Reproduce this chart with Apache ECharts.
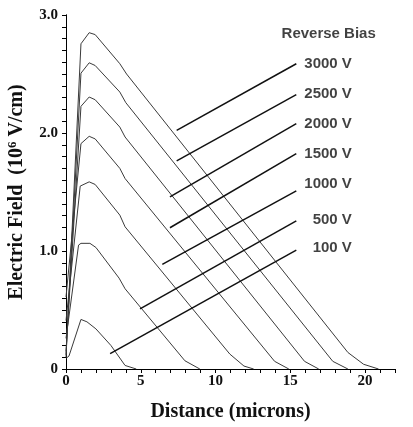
<!DOCTYPE html>
<html>
<head>
<meta charset="utf-8">
<script src="https://cdn.jsdelivr.net/npm/echarts@6/dist/echarts.min.js"></script>
<style>html,body{margin:0;padding:0;background:#fff}#c{width:413px;height:427px}</style>
</head>
<body>
<div id="c"></div>
<script>
// Electric field profiles (distance in microns, field in 10^6 V/cm)
const curve100  = [[0,0.09],[0.2,0.11],[1.0,0.42],[1.4,0.40],[2.0,0.34],[3.0,0.20],[3.95,0.03],[4.7,0]];
const curve500  = [[0,0.26],[0.84,1.05],[1.0,1.065],[1.6,1.065],[2.0,1.03],[3.55,0.77],[3.95,0.68],[7.95,0.07],[8.95,0]];
const curve1000 = [[0,0.41],[0.95,1.55],[1.55,1.586],[1.95,1.564],[3.6,1.304],[3.95,1.205],[10.95,0.127],[11.9,0.025],[12.55,0]];
const curve1500 = [[0,0.61],[1.0,1.91],[1.55,1.972],[1.95,1.95],[3.6,1.70],[3.95,1.614],[13.95,0.065],[14.9,0]];
const curve2000 = [[0,0.15],[1.0,2.226],[1.55,2.305],[1.95,2.282],[3.6,2.05],[3.95,1.966],[15.95,0.065],[16.9,0]];
const curve2500 = [[0,0.12],[1.0,2.507],[1.55,2.595],[1.95,2.572],[3.6,2.347],[4.0,2.257],[17.84,0.065],[18.85,0]];
const curve3000 = [[0,0.10],[1.0,2.756],[1.55,2.85],[1.95,2.834],[3.6,2.587],[4.05,2.50],[18.85,0.14],[19.9,0.04],[20.9,0]];

// Reverse-bias leader lines: start points and end points
const biasNames   = ['100 V','500 V','1000 V','1500 V','2000 V','2500 V','3000 V'];
const leaderStart = [[2.95,0.13],[4.95,0.51],[6.44,0.887],[6.95,1.197],[6.95,1.459],[7.4,1.763],[7.4,2.023]];
const leaderEnd   = [[15.4,1.008],[15.4,1.256],[15.4,1.51],[15.4,1.826],[15.4,2.079],[15.4,2.325],[15.4,2.587]];
const labelPos    = [[19.15,1.023],[19.15,1.262],[19.15,1.572],[19.15,1.826],[19.15,2.08],[19.15,2.333],[19.15,2.59]];
const titlePos    = [[20.75,2.84]];

const xTickLabels = [0,5,10,15,20];
const yTickLabels = {0:'0',1:'1.0',2:'2.0',3:'3.0'};

const curves = [curve100,curve500,curve1000,curve1500,curve2000,curve2500,curve3000];
const serif = '"Liberation Serif","Times New Roman",serif';
const sans = '"Liberation Sans",Arial,sans-serif';

const series = [];
curves.forEach((c,i)=>{
  series.push({type:'line',name:biasNames[i],data:c,symbol:'none',
    lineStyle:{color:'#3a3a3a',width:1},animation:false,z:2});
});
leaderStart.forEach((s,i)=>{
  series.push({type:'line',data:[s,leaderEnd[i]],symbol:'none',
    lineStyle:{color:'#111',width:1.5},animation:false,z:3});
});
series.push({type:'scatter',data:labelPos.map((p,i)=>({value:p,name:biasNames[i]})),
  symbolSize:1,itemStyle:{color:'rgba(0,0,0,0)'},animation:false,
  label:{show:true,position:'left',distance:0,formatter:p=>p.name,
    fontFamily:sans,fontWeight:'bold',fontSize:15,color:'#111'}});
series.push({type:'scatter',data:titlePos.map(p=>({value:p,name:'Reverse Bias'})),
  symbolSize:1,itemStyle:{color:'rgba(0,0,0,0)'},animation:false,
  label:{show:true,position:'left',distance:0,formatter:p=>p.name,
    fontFamily:sans,fontWeight:'bold',fontSize:15,color:'#111'}});

function isInt(v){return Math.abs(v-Math.round(v))<1e-6;}

const option = {
  animation:false,
  grid:{left:66,right:18,top:15,bottom:58,containLabel:false,outerBoundsMode:'none'},
  xAxis:[{
    type:'value',min:0,max:22,interval:1,position:'bottom',
    name:'Distance (microns)',nameLocation:'middle',nameGap:33,
    nameTextStyle:{fontFamily:serif,fontWeight:'bold',fontSize:20,color:'#111'},
    axisLine:{show:true,lineStyle:{color:'#000',width:1}},
    axisTick:{show:true,inside:false,length:4,lineStyle:{color:'#000'}},
    splitLine:{show:false},
    axisLabel:{margin:5,fontFamily:serif,fontWeight:'bold',fontSize:15,color:'#111',
      formatter:v=>{const r=Math.round(v);return (isInt(v)&&xTickLabels.indexOf(r)>=0)?String(r):'';}}
  },{
    type:'value',min:0,max:22,interval:1,position:'top',
    axisLine:{show:true,lineStyle:{color:'#000',width:1}},
    axisTick:{show:true,inside:true,length:4,lineStyle:{color:'#000'}},
    axisLabel:{show:false},splitLine:{show:false}
  }],
  yAxis:[{
    type:'value',min:0,max:3,interval:0.1,position:'left',
    name:'{a|Electric Field  (10}{s|6}{a| V/cm)}',nameLocation:'middle',nameGap:39,nameRotate:90,
    nameTextStyle:{rich:{
      a:{fontFamily:serif,fontWeight:'bold',fontSize:20,color:'#111'},
      s:{fontFamily:serif,fontWeight:'bold',fontSize:13,color:'#111',padding:[0,0,8,0]}}},
    axisLine:{show:true,lineStyle:{color:'#000',width:1}},
    axisTick:{show:true,inside:false,length:4,lineStyle:{color:'#000'}},
    splitLine:{show:false},
    axisLabel:{margin:8,fontFamily:serif,fontWeight:'bold',fontSize:15,color:'#111',
      formatter:v=>{if(!isInt(v))return '';const r=Math.round(v);return yTickLabels[r]!==undefined?yTickLabels[r]:'';}}
  },{
    type:'value',min:0,max:3,interval:0.1,position:'right',
    axisLine:{show:true,lineStyle:{color:'#000',width:1}},
    axisTick:{show:true,inside:true,length:4,lineStyle:{color:'#000'}},
    axisLabel:{show:false},splitLine:{show:false}
  }],
  series:series
};
const chart = echarts.init(document.getElementById('c'),null,{renderer:'canvas'});
chart.setOption(option);
</script>
</body>
</html>
